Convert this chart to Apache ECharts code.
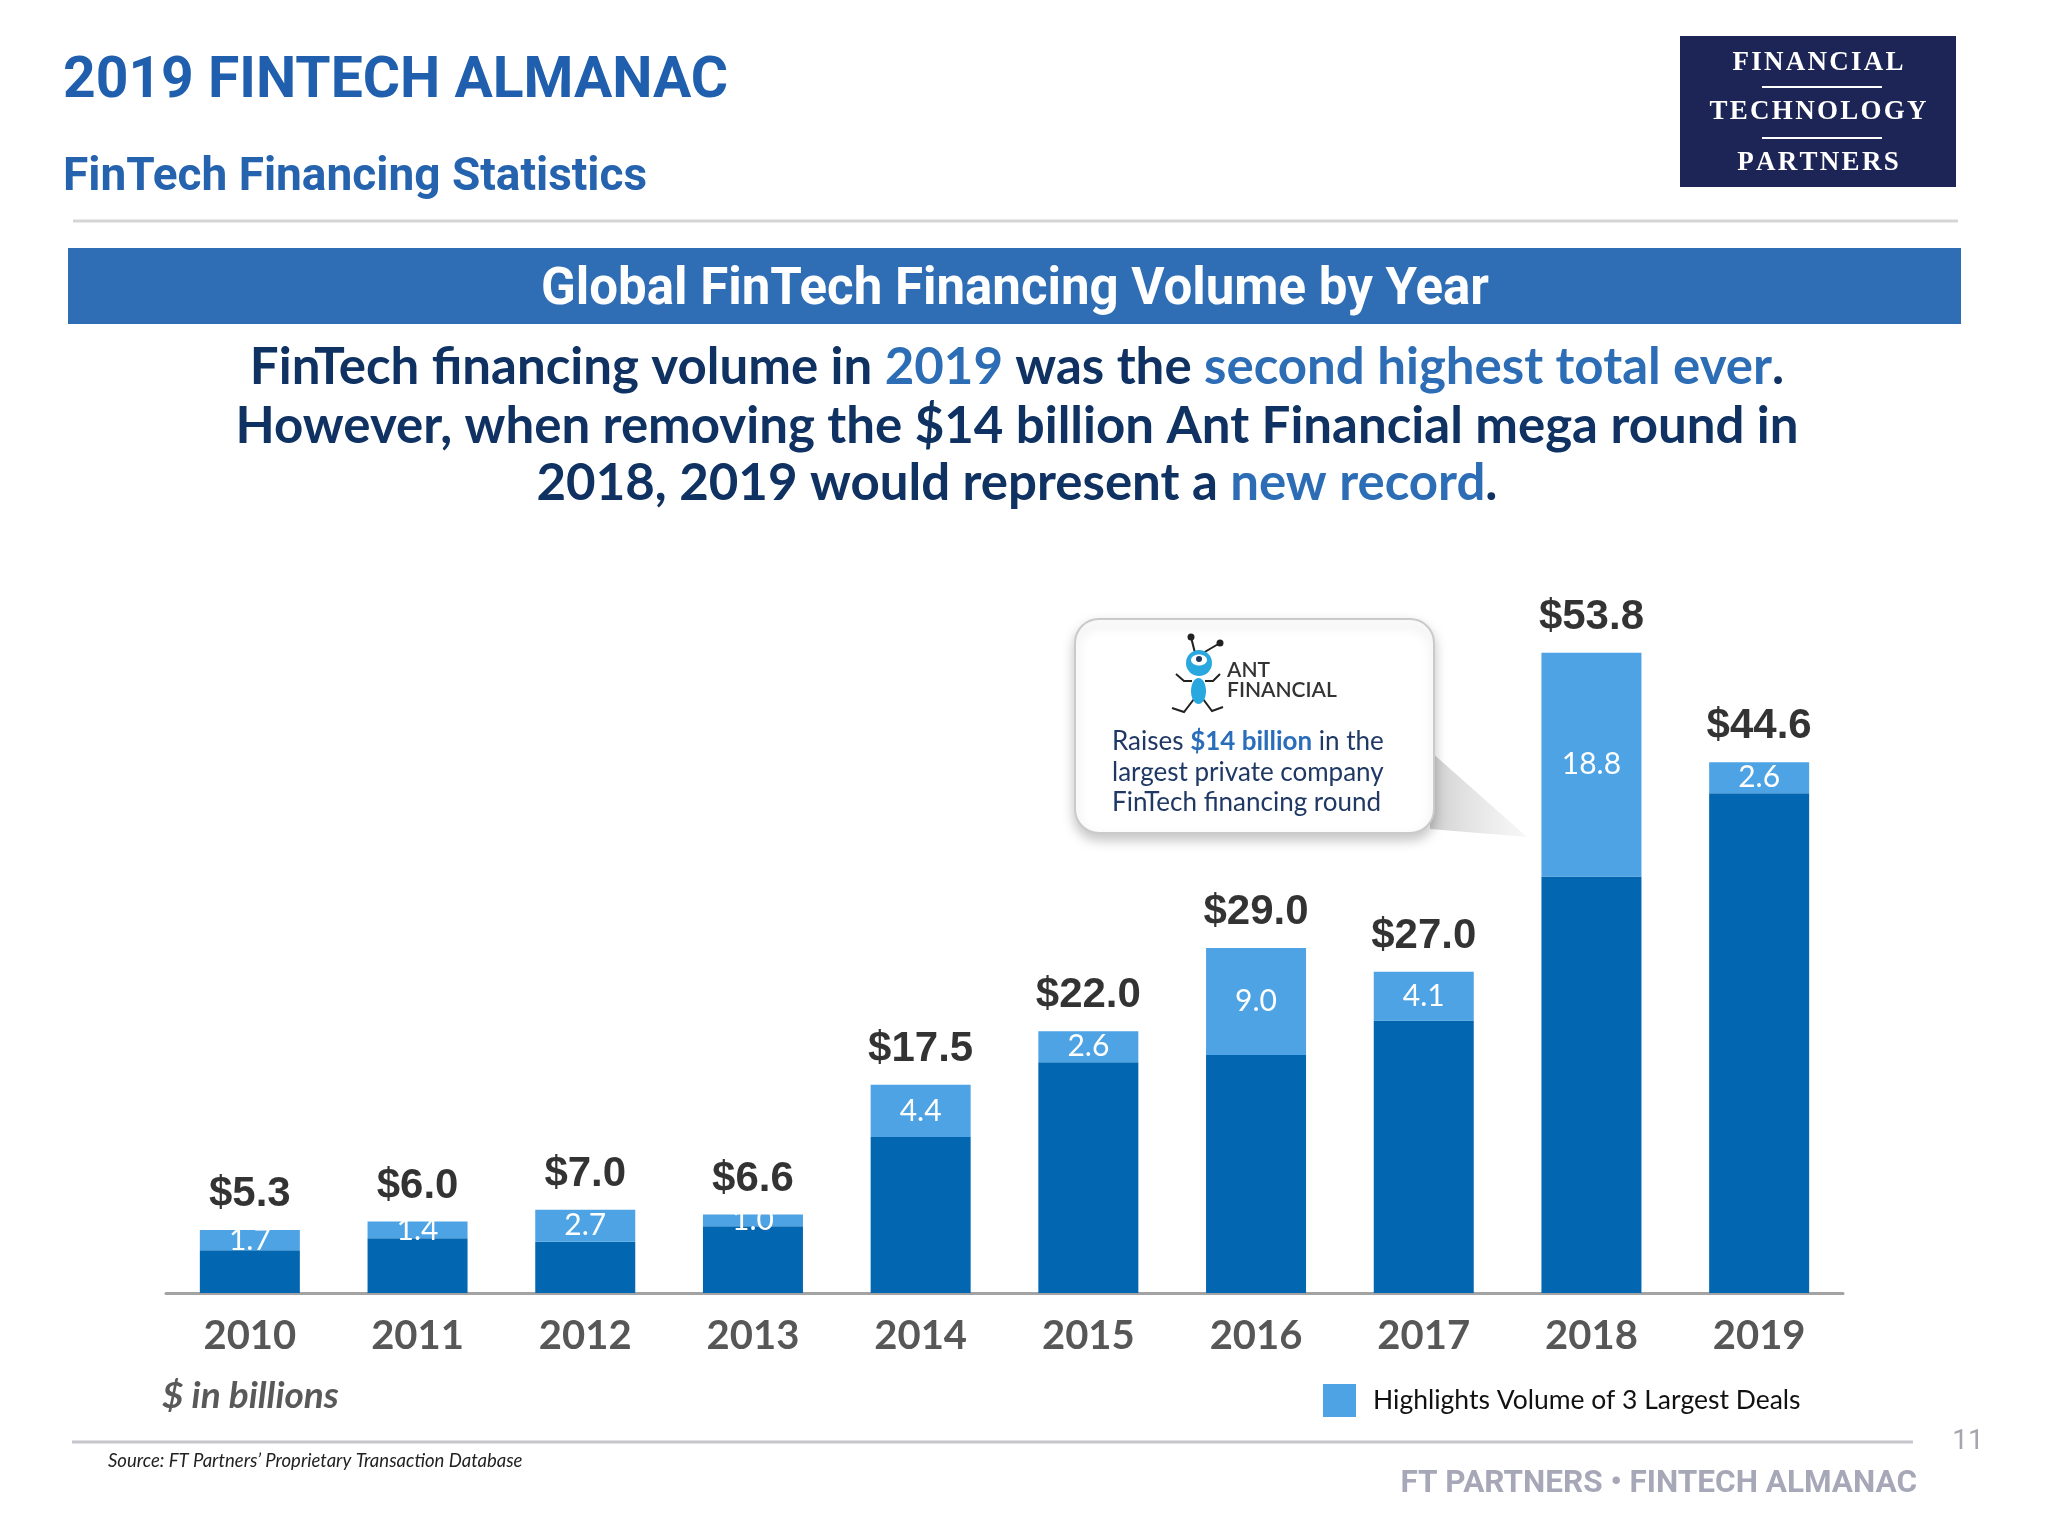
<!DOCTYPE html>
<html>
<head>
<meta charset="utf-8">
<title>Global FinTech Financing Volume by Year</title>
<script src="https://cdn.jsdelivr.net/npm/echarts@6/dist/echarts.min.js"></script>
<style>
  html, body { margin: 0; padding: 0; background: #fff; }
  #chart { width: 2048px; height: 1536px; }
</style>
</head>
<body>
<div id="chart"></div>
<script>
// values, $ in billions
const years = ['2010', '2011', '2012', '2013', '2014', '2015', '2016', '2017', '2018', '2019'];
const totals = [5.3, 6.0, 7.0, 6.6, 17.5, 22.0, 29.0, 27.0, 53.8, 44.6];
const highlights = [1.7, 1.4, 2.7, 1.0, 4.4, 2.6, 9.0, 4.1, 18.8, 2.6];
const baseValues = [3.6, 4.6, 4.3, 5.6, 13.1, 19.4, 20.0, 22.9, 35.0, 42.0];
const legendName = 'Highlights Volume of 3 Largest Deals';

const navy = '#0F3263';
const blue = '#2C6DB5';
const hs = '\u200A';
const spaced = s => s.split('').join(hs);

function txt(x, y, text, font, fill, align, extra) {
  return Object.assign({
    type: 'text', x: x, y: y, z: 10,
    style: {text: text, font: font, fill: fill, align: align || 'left', verticalAlign: 'middle'}
  }, extra || {});
}

const headRich = {
  a: {fill: navy, font: 'bold 51px Lato'},
  b: {fill: blue, font: 'bold 51px Lato'}
};
const calloutRich = {
  a: {fill: '#1F3864', font: '26px Lato'},
  b: {fill: '#2A6EBB', font: 'bold 26px Lato'}
};

let myChart = echarts.init(document.getElementById('chart'));
myChart.setOption({
  backgroundColor: '#fff',
  animation: false,
  grid: {left: 166, right: 205, top: 579, bottom: 243},
  legend: {
    data: [legendName],
    left: 1318, top: 1379,
    icon: 'rect',
    itemWidth: 33, itemHeight: 33,
    textStyle: {color: '#111', fontSize: 26.5, fontFamily: 'Lato', padding: [0, 0, 0, 12]},
    selectedMode: false
  },
  xAxis: {
    type: 'category',
    data: years,
    axisTick: {show: false},
    axisLine: {lineStyle: {color: '#A3A3A3', width: 3}},
    axisLabel: {color: '#575757', fontSize: 40, fontWeight: 'bold', fontFamily: 'Lato', margin: 23}
  },
  yAxis: {type: 'value', min: 0, max: 60, show: false},
  series: [
    {
      name: 'base',
      type: 'bar',
      stack: 'vol',
      barWidth: 100,
      data: baseValues,
      itemStyle: {color: '#0366B0'}
    },
    {
      name: legendName,
      type: 'bar',
      stack: 'vol',
      barWidth: 100,
      data: highlights,
      itemStyle: {color: '#4DA3E4'},
      label: {
        show: true,
        position: 'inside',
        color: '#fff',
        fontSize: 30,
        fontFamily: 'Lato',
        formatter: p => p.value.toFixed(1)
      }
    },
    {
      name: 'total',
      type: 'scatter',
      data: totals,
      symbolSize: 1,
      itemStyle: {color: 'rgba(0,0,0,0)'},
      label: {
        show: true,
        position: 'top',
        distance: 14,
        color: '#000',
        fontSize: 42,
        fontWeight: 'bold',
        fontFamily: 'Liberation Sans',
        lineHeight: 42,
        formatter: p => '$' + p.value.toFixed(1)
      }
    }
  ],
  graphic: [
    // header
    txt(63, 83, '2019 FINTECH ALMANAC', 'bold 57px Roboto', '#1F5FAD'),
    txt(63, 178, 'FinTech Financing Statistics', 'bold 46px Roboto', '#2563AE'),
    {type: 'line', shape: {x1: 73, y1: 221, x2: 1958, y2: 221}, style: {stroke: '#D5D5D8', lineWidth: 3}},
    // logo
    {type: 'rect', shape: {x: 1680, y: 36, width: 276, height: 151}, style: {fill: '#1D2456'}},
    txt(1818, 63, spaced('FINANCIAL'), 'bold 27px "Liberation Serif"', '#fff', 'center'),
    {type: 'line', shape: {x1: 1762, y1: 87, x2: 1882, y2: 87}, style: {stroke: '#fff', lineWidth: 2}},
    txt(1818, 112, spaced('TECHNOLOGY'), 'bold 27px "Liberation Serif"', '#fff', 'center'),
    {type: 'line', shape: {x1: 1762, y1: 138, x2: 1882, y2: 138}, style: {stroke: '#fff', lineWidth: 2}},
    txt(1818, 163, spaced('PARTNERS'), 'bold 27px "Liberation Serif"', '#fff', 'center'),
    // banner
    {type: 'rect', shape: {x: 68, y: 248, width: 1893, height: 76}, style: {fill: '#2F6EB5'}},
    txt(1015, 291, 'Global FinTech Financing Volume by Year', 'bold 51px Roboto', '#fff', 'center'),
    // headline
    {type: 'text', x: 1017, y: 368, z: 10, style: {
      text: '{a|FinTech financing volume in }{b|2019}{a| was the }{b|second highest total ever}{a|.}',
      rich: headRich, align: 'center', verticalAlign: 'middle'}},
    {type: 'text', x: 1017, y: 427, z: 10, style: {
      text: '{a|However, when removing the $14 billion Ant Financial mega round in}',
      rich: headRich, align: 'center', verticalAlign: 'middle'}},
    {type: 'text', x: 1017, y: 484, z: 10, style: {
      text: '{a|2018, 2019 would represent a }{b|new record}{a|.}',
      rich: headRich, align: 'center', verticalAlign: 'middle'}},
    // callout pointer + box
    {type: 'polygon', z: 5, shape: {points: [[1430, 751], [1430, 829], [1527, 837]]},
      style: {fill: new echarts.graphic.LinearGradient(0, 0, 1, 0, [
        {offset: 0, color: '#CFCFCF'}, {offset: 1, color: 'rgba(235,235,235,0.4)'}])}},
    {type: 'rect', z: 6, shape: {x: 1075, y: 619, width: 359, height: 214, r: 24},
      style: {fill: '#fff', stroke: '#CACACA', lineWidth: 2,
        shadowBlur: 12, shadowOffsetY: 6, shadowColor: 'rgba(0,0,0,0.22)'}},
    // ant logo
    {type: 'polyline', z: 11, shape: {points: [[1195, 653], [1191, 637]]}, style: {stroke: '#222', lineWidth: 2}},
    {type: 'polyline', z: 11, shape: {points: [[1203, 653], [1220, 643]]}, style: {stroke: '#222', lineWidth: 2}},
    {type: 'circle', z: 11, shape: {cx: 1191, cy: 637, r: 3.5}, style: {fill: '#222'}},
    {type: 'circle', z: 11, shape: {cx: 1220, cy: 643, r: 3.5}, style: {fill: '#222'}},
    {type: 'polyline', z: 11, shape: {points: [[1192, 681], [1184, 681], [1176, 674]]}, style: {stroke: '#222', lineWidth: 2}},
    {type: 'polyline', z: 11, shape: {points: [[1205, 681], [1213, 681], [1220, 674]]}, style: {stroke: '#222', lineWidth: 2}},
    {type: 'polyline', z: 11, shape: {points: [[1194, 699], [1184, 712], [1172, 708]]}, style: {stroke: '#222', lineWidth: 2}},
    {type: 'polyline', z: 11, shape: {points: [[1203, 699], [1212, 711], [1223, 707]]}, style: {stroke: '#222', lineWidth: 2}},
    {type: 'ellipse', z: 12, shape: {cx: 1198.5, cy: 691, rx: 7.5, ry: 13}, style: {fill: '#29A8E0'}},
    {type: 'circle', z: 12, shape: {cx: 1199, cy: 663, r: 13}, style: {fill: '#29A8E0'}},
    {type: 'ellipse', z: 13, shape: {cx: 1199, cy: 660, rx: 8, ry: 5.5}, style: {fill: '#fff'}},
    {type: 'circle', z: 14, shape: {cx: 1199, cy: 659, r: 3}, style: {fill: '#1D3A5A'}},
    txt(1227, 670, 'ANT', '600 21px Lato', '#333'),
    txt(1227, 690, 'FINANCIAL', '600 21px Lato', '#333'),
    // callout text
    {type: 'text', x: 1112, y: 742, z: 10, style: {
      text: '{a|Raises }{b|$14 billion}{a| in the}', rich: calloutRich, align: 'left', verticalAlign: 'middle'}},
    txt(1112, 773, 'largest private company', '26px Lato', '#1F3864'),
    txt(1112, 803, 'FinTech financing round', '26px Lato', '#1F3864'),
    // units note
    txt(162, 1396, '$ in billions', 'italic bold 37px Lato', '#595959'),
    // footer
    {type: 'line', shape: {x1: 72, y1: 1442, x2: 1913, y2: 1442}, style: {stroke: '#C6C6CC', lineWidth: 3}},
    txt(1968, 1442, '11', '28px Roboto', '#A5A5AD', 'center'),
    txt(108, 1461, 'Source: FT Partners\u2019 Proprietary Transaction Database', 'italic 18.5px Lato', '#222'),
    txt(1917, 1484, 'FT PARTNERS \u2022 FINTECH ALMANAC', 'bold 31.5px Roboto', '#A6A8B8', 'right')
  ]
});
</script>
</body>
</html>
